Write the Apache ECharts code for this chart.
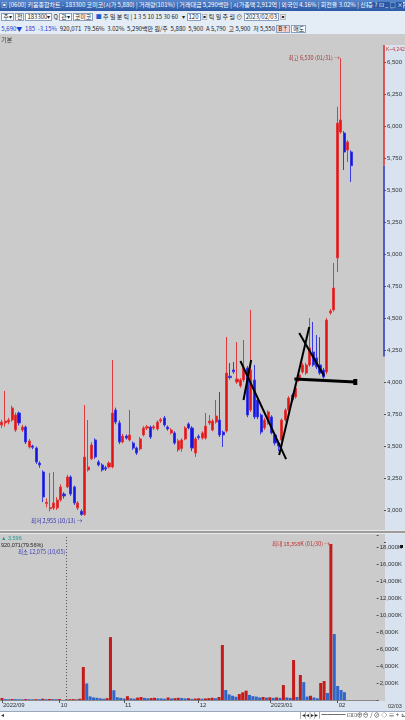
<!DOCTYPE html>
<html><head><meta charset="utf-8">
<script src="https://cdn.jsdelivr.net/npm/echarts@6/dist/echarts.min.js"></script>
<style>
html,body{margin:0;padding:0;width:405px;height:720px;overflow:hidden;background:#cbcbcb;font-family:"Noto Sans CJK KR","Noto Sans",sans-serif;}
.blk{position:absolute;}
#chart{position:absolute;left:0;top:0;width:405px;height:720px;}
.row{position:absolute;left:0;width:405px;font-size:6px;line-height:1;white-space:nowrap;overflow:hidden;color:#222;}
.box{display:inline-block;border:1px solid #8aa0c0;background:#fff;padding:0 1px;margin-right:1px;}
</style></head>
<body>
<div class="blk" style="left:385px;top:45px;width:20px;height:656px;background:#d9e3ef"></div>
<div class="blk" style="left:0;top:530px;width:405px;height:1px;background:#e8e8e8"></div>
<div class="blk" style="left:0;top:531px;width:405px;height:2px;background:#9c9c9c"></div>
<div class="blk" style="left:0;top:533px;width:405px;height:1px;background:#e8e8e8"></div>
<div class="blk" style="left:0;top:701px;width:405px;height:10px;background:#d9e3ef"></div>
<div class="blk" style="left:0;top:711px;width:405px;height:9px;background:#ffffff;border-top:1px solid #9aa8bb"></div>
<div id="chart"></div>
<div class="row" style="top:0;height:11px;background:linear-gradient(#5585cc,#2b58a4);color:#fff;padding-top:2px;height:9px">
&nbsp;▣ [0600] 키움종합차트 - 183300 코미코(시가 5,880) | 거래량(101%) | 거래대금 5,290백만 | 시가총액 2,912억 | 외국인 4.16% | 회전율 3.02% | 신용 1.35% | 52주 6,530 / 2,955 | PER 14.1 | 상장주식 5,137천
<span style="position:absolute;right:2px;top:2px;background:#2b58a4">증 ? ⊡ _ □ ×</span></div>
<div class="row" style="top:11px;height:11px;background:#e4ecf6;padding-top:2px;height:9px">
&nbsp;<span class="box">주▾</span><span class="box">전</span><span class="box">183300▾</span>Q <span class="box">관▾</span><span class="box">코미코</span> <span style="color:#1a5fd0">■</span> 주 일 분 틱 | 1 3 5 10 15 30 60 &nbsp; ▾ <span class="box">120</span>▣ 틱 일 주 월 ⊙ <span class="box">2023/02/03</span>▣</div>
<div class="row" style="top:22px;height:12px;background:#e4ecf6;padding-top:3px;height:9px">
&nbsp;<span style="color:#1a3fd0">5,690▼</span> &nbsp;<span style="color:#1a3fd0">185 &nbsp;-3.15%</span> &nbsp;920,071 &nbsp;79.56% &nbsp;3.02% &nbsp;5,290백만 원/주 &nbsp;5,880 &nbsp;5,900 &nbsp;A 5,790 &nbsp;고 5,900 &nbsp;저 5,550 <span class="box" style="background:#f6d0d0">B↑</span><span class="box">매도</span></div>
<div class="row" style="top:37px;height:8px;color:#333">&nbsp;기본</div>
<div class="row" style="top:712px;height:8px;color:#333;background:transparent">&nbsp;◂<span style="position:absolute;left:300px">|◂|◂|▸|▸| ━━━━ ⊡⊡⊕⊖ / ⊘ ◇ ≡ + ⊾ T ⇅ ☐ ☰ ⊞</span></div>

<script>
// ---- data ----
const dates = [
'2022/09/06','2022/09/07','2022/09/08','2022/09/13','2022/09/14','2022/09/15','2022/09/16','2022/09/19','2022/09/20','2022/09/21','2022/09/22','2022/09/23','2022/09/26','2022/09/27','2022/09/28','2022/09/29','2022/09/30',
'2022/10/04','2022/10/05','2022/10/06','2022/10/07','2022/10/11','2022/10/12','2022/10/13','2022/10/14','2022/10/17','2022/10/18','2022/10/19','2022/10/20','2022/10/21','2022/10/24','2022/10/25','2022/10/26','2022/10/27','2022/10/28','2022/10/31',
'2022/11/01','2022/11/02','2022/11/03','2022/11/04','2022/11/07','2022/11/08','2022/11/09','2022/11/10','2022/11/11','2022/11/14','2022/11/15','2022/11/16','2022/11/17','2022/11/18','2022/11/21','2022/11/22','2022/11/23','2022/11/24','2022/11/25','2022/11/28','2022/11/29','2022/11/30',
'2022/12/01','2022/12/02','2022/12/05','2022/12/06','2022/12/07','2022/12/08','2022/12/09','2022/12/12','2022/12/13','2022/12/14','2022/12/15','2022/12/16','2022/12/19','2022/12/20','2022/12/21','2022/12/22','2022/12/23','2022/12/26','2022/12/27','2022/12/28','2022/12/29',
'2023/01/02','2023/01/03','2023/01/04','2023/01/05','2023/01/06','2023/01/09','2023/01/10','2023/01/11','2023/01/12','2023/01/13','2023/01/16','2023/01/17','2023/01/18','2023/01/19','2023/01/20','2023/01/25','2023/01/26','2023/01/27','2023/01/30','2023/01/31',
'2023/02/01','2023/02/02','2023/02/03'];
const opens  = [3664,3680,3687,3703,3625,3758,3625,3648,3492,3500,3484,3367,3297,3050,3010,3016,3016,3078,3125,3180,3258,3180,3016,2990,2965,3313,3400,3547,3375,3352,3330,3336,3336,3781,3680,3531,3578,3547,3523,3484,3477,3586,3640,3648,3640,3633,3695,3719,3648,3602,3602,3470,3480,3555,3672,3641,3445,3575,3562,3562,3680,3625,3687,3703,3609,3617,4045,4094,4000,3969,4016,4109,3781,4016,3859,3742,3641,3680,3727,3586,3523,3547,3703,3781,3898,3883,4016,4078,4070,4133,4234,4188,4133,4094,4078,4540,4563,4969,5953,5945,5812,5797];
const closes = [3687,3695,3703,3797,3742,3680,3648,3531,3539,3490,3375,3352,3102,3060,3020,3055,3078,3180,3110,3258,3125,3055,3055,2965,3414,3336,3508,3414,3352,3313,3320,3367,3758,3687,3531,3578,3562,3586,3484,3445,3555,3641,3650,3570,3650,3687,3705,3664,3633,3625,3523,3540,3547,3641,3641,3484,3555,3565,3602,3656,3695,3695,3734,3586,3586,4070,4035,4080,4023,4016,4109,3742,4094,3727,3727,3609,3703,3766,3602,3523,3500,3703,3781,3875,3859,3953,4055,4133,4133,4266,4133,4117,4070,4039,4484,4555,4734,6023,6047,5797,5875,5690];
const lows   = [3640,3650,3670,3690,3610,3660,3610,3515,3480,3475,3360,3330,3062,3020,2990,3000,3000,3065,3090,3170,3110,3040,3000,2955,2955,3300,3390,3400,3340,3300,3305,3325,3325,3670,3515,3520,3550,3535,3470,3430,3465,3575,3625,3555,3625,3620,3680,3650,3620,3590,3510,3455,3455,3545,3630,3460,3415,3550,3550,3550,3665,3615,3675,3570,3492,3605,4020,4065,3985,3955,4000,3725,3765,3710,3710,3590,3625,3665,3590,3505,3460,3535,3690,3770,3845,3870,4000,4065,4055,4120,4120,4100,4055,4025,4060,4525,4550,4859,5940,5656,5719,5563];
const highs  = [3705,3930,3720,3815,3760,3770,3665,3660,3555,3510,3495,3380,3310,3090,3290,3297,3100,3200,3140,3275,3270,3190,3070,3005,3820,3703,3530,3560,3390,3365,3345,3380,4172,3800,3700,3595,3590,3781,3535,3495,3570,3655,3665,3660,3665,3700,3720,3735,3660,3640,3615,3555,3560,3655,3685,3655,3570,3590,3615,3758,3742,3710,3859,3922,3620,4352,4148,4156,4312,4030,4328,4125,4563,4133,3875,3755,3720,3780,3740,3600,3535,3715,3795,3890,3910,3970,4070,4150,4150,4500,4469,4367,4350,4110,4500,4570,4930,6150,6530,5960,5890,5810];
// volume in thousands of shares
const volumes = [240,110,90,120,100,90,80,110,90,80,100,90,150,100,120,110,100,110,12.075,60,90,110,80,150,
3880,1950,420,300,260,200,150,220,7400,1150,320,250,180,450,200,160,280,350,250,200,230,260,200,180,150,300,180,
220,260,240,190,210,130,170,200,150,180,220,260,200,350,6470,1180,650,500,380,700,900,1100,600,450,400,300,350,280,
320,250,300,250,1760,300,250,4700,350,2940,2100,400,500,300,200,2000,2230,820,18358,7760,1650,1180,920];
const padCount = 9;                        // empty space right of the last candle
const xTickIdx  = [0,17,36,58,79,99];
const xTickText = ['2022/09','10','11','12','2023/01','02'];
const priceMin = 2750, priceMax = 6750, priceStep = 250;
const volStep = 2000, volLabelMax = 18000;
// hand-drawn trendlines: [category position, price]
const trend1 = [[69.0,4164],[82.2,3398]];
const trend2 = [[72.1,4172],[69.9,3859]];
const trend3 = [[80.2,3430],[88.9,4430]];
const trend4 = [[86.0,4383],[93.2,4047]];
const trend5 = [[84.6,4023],[102.2,4000]];
const upRange = [[110.5,6633],[110.5,5690]];
const downRange = [[110.5,5690],[110.5,4200]];
const lastPrice = 5690, lastChangeText = '-3.15%';
const volMA = 3596, lastVol = 920;
const maxPrice = {date:'2023/01/31', value:6530, text:'최고 6,530 (01/31) →'};
const minPrice = {date:'2022/10/13', value:2955, text:'최저 2,955 (10/13) →'};
const maxVol = {date:'2023/01/30', value:18358, text:'최대 18,358K (01/30) →'};
const minVol = {date:'2022/10/06', text:'최소 12,075 (10/05)'};

// ---- build ----
const cats = dates.concat(Array.from({length:padCount},(_,i)=>'pad'+i));
const N = cats.length;
const candle = dates.map((d,i)=>[opens[i],closes[i],lows[i],highs[i]]);
const UP='#e41414', DN='#1414e0', UPB='#e23a3a', DNB='#3a3ae2', VUP='#c41a1a', VDN='#2f66c8';
const volData = volumes.map((v,i)=>({value:v,itemStyle:{color:(i===0||v>volumes[i-1])?VUP:VDN}}));
const fmt = v => Math.round(v).toLocaleString('en-US');
const NUMF = 'Liberation Sans';
const KF = 'Noto Sans CJK KR';

const chart = echarts.init(document.getElementById('chart'), null, {renderer:'canvas'});
function trend(data, w, endRect){
  return {type:'line', xAxisIndex:2, yAxisIndex:0, silent:true, z:6, clip:false,
    data: data.map((p,i)=> endRect && i===data.length-1 ? {value:p, symbol:'rect', symbolSize:[4,6]} : {value:p, symbol:'none'}),
    showSymbol:true, itemStyle:{color:'#000'}, lineStyle:{color:'#000', width:w}, animation:false};
}
function rangeLine(data,color){
  return {type:'line', xAxisIndex:2, yAxisIndex:0, silent:true, z:6, clip:false, symbol:'none',
    data:data, lineStyle:{color:color,width:1.5}, animation:false};
}
chart.setOption({
  animation:false,
  backgroundColor:'transparent',
  grid:[{left:0,right:20,top:30,height:512},{left:0,right:20,top:535,height:165}],
  xAxis:[
    {type:'category', data:cats, gridIndex:0, show:false},
    {type:'category', data:cats, gridIndex:1,
      axisLine:{show:true,onZero:false,lineStyle:{color:'#8a8a8a'}},
      axisTick:{show:true,alignWithLabel:true,length:3,interval:(i)=>xTickIdx.includes(i),lineStyle:{color:'#555'}},
      axisLabel:{interval:(i)=>xTickIdx.includes(i), formatter:(v,i)=>{const k=xTickIdx.indexOf(i);return k>=0?xTickText[k]:'';},
        fontSize:6, fontFamily:NUMF, color:'#333', align:'left', margin:2, padding:[0,0,0,1]}},
    {type:'value', gridIndex:0, min:-0.5, max:N-0.5, show:false}
  ],
  yAxis:[
    {type:'value', gridIndex:0, position:'right', min:priceMin, max:priceMax, interval:priceStep,
      axisLine:{show:false,onZero:false}, splitLine:{show:false},
      axisTick:{show:true,length:2,lineStyle:{color:'#555'}},
      axisLabel:{formatter:v=>(v>priceMin&&v<priceMax)?fmt(v):'', fontSize:6, fontFamily:NUMF, color:'#333', margin:3}},
    {type:'value', gridIndex:1, position:'right', min:0, max:165/8.5*1000, interval:volStep,
      axisLine:{show:false,onZero:false}, splitLine:{show:false},
      axisTick:{show:true,length:2,lineStyle:{color:'#555'}},
      axisLabel:{formatter:v=>(v>0&&v<=volLabelMax&&v%volStep===0)?fmt(v)+'K':'', fontSize:6, fontFamily:NUMF, color:'#333', margin:3}}
  ],
  series:[
    {type:'candlestick', xAxisIndex:0, yAxisIndex:0, data:candle, barWidth:2.6,
      itemStyle:{color:UP,color0:DN,borderColor:UPB,borderColor0:DNB,borderWidth:1},
      markPoint:{symbol:'circle',symbolSize:0.1, silent:true, animation:false,
        data:[
          {coord:[maxPrice.date,maxPrice.value], label:{show:true,position:'left',distance:1,formatter:maxPrice.text,fontSize:5.5,fontFamily:KF,color:'#a23a3a'}},
          {coord:[minPrice.date,minPrice.value], label:{show:true,position:'left',distance:1,offset:[2,5],formatter:minPrice.text,fontSize:5.5,fontFamily:KF,color:'#2b2bb0'}}
        ]},
      markLine:{symbol:'none', silent:true, animation:false, lineStyle:{opacity:0},
        data:[
          {yAxis:lastPrice, label:{show:true,position:'end',distance:1,formatter:fmt(lastPrice),fontSize:6,fontFamily:NUMF,color:'#fff',backgroundColor:'#1515e8',padding:[1,5,0,2]}},
          {yAxis:lastPrice, label:{show:true,position:'end',distance:2,offset:[0,7],formatter:lastChangeText,fontSize:5.5,fontFamily:NUMF,color:'#1515c0'}}
        ]}
    },
    trend(trend1,2), trend(trend2,2), trend(trend3,2), trend(trend4,2), trend(trend5,3,true),
    rangeLine(upRange,'#e03030'), rangeLine(downRange,'#2a3ac8'),
    {type:'bar', xAxisIndex:1, yAxisIndex:1, data:volData, barWidth:3,
      markPoint:{symbol:'circle',symbolSize:0.1, silent:true, animation:false,
        data:[
          {coord:[maxVol.date,maxVol.value], label:{show:true,position:'left',distance:1,formatter:maxVol.text,fontSize:5.5,fontFamily:KF,color:'#c03030'}},
          {coord:[minVol.date,17400], label:{show:true,position:'left',distance:1,formatter:minVol.text,fontSize:5.5,fontFamily:KF,color:'#3a3ab8'}}
        ]},
      markLine:{symbol:'none', silent:true, animation:false,
        data:[
          {xAxis:minVol.date, lineStyle:{type:[1,2],color:'#555',width:1}, label:{show:false}},
          {yAxis:volMA, lineStyle:{opacity:0}, label:{show:true,position:'end',distance:1,formatter:fmt(volMA)+'K',fontSize:6,fontFamily:NUMF,color:'#333',backgroundColor:'#f3e89a',padding:[1,2,0,2]}},
          {yAxis:lastVol, lineStyle:{opacity:0}, label:{show:true,position:'end',distance:1,formatter:lastVol+'K',fontSize:6,fontFamily:NUMF,color:'#fff',backgroundColor:'#2a5fd0',padding:[1,6,0,2]}}
        ]}
    }
  ],
  graphic:[
    {type:'text', left:1, top:535, style:{text:'▲ 3,596', fontSize:5.5, fontFamily:NUMF, fill:'#2a9a90'}},
    {type:'text', left:1, top:542, style:{text:'920,071(79.56%)', fontSize:5.5, fontFamily:NUMF, fill:'#222'}},
    {type:'text', left:388, top:703, style:{text:'02/03', fontSize:5.5, fontFamily:NUMF, fill:'#333'}},
    {type:'rect', left:400, top:545, shape:{width:3,height:3}, style:{fill:'#111'}},
    {type:'text', left:386, top:47, style:{text:'K~4,242', fontSize:5, fontFamily:NUMF, fill:'#c03030'}}
  ]
});
</script>
</body></html>
